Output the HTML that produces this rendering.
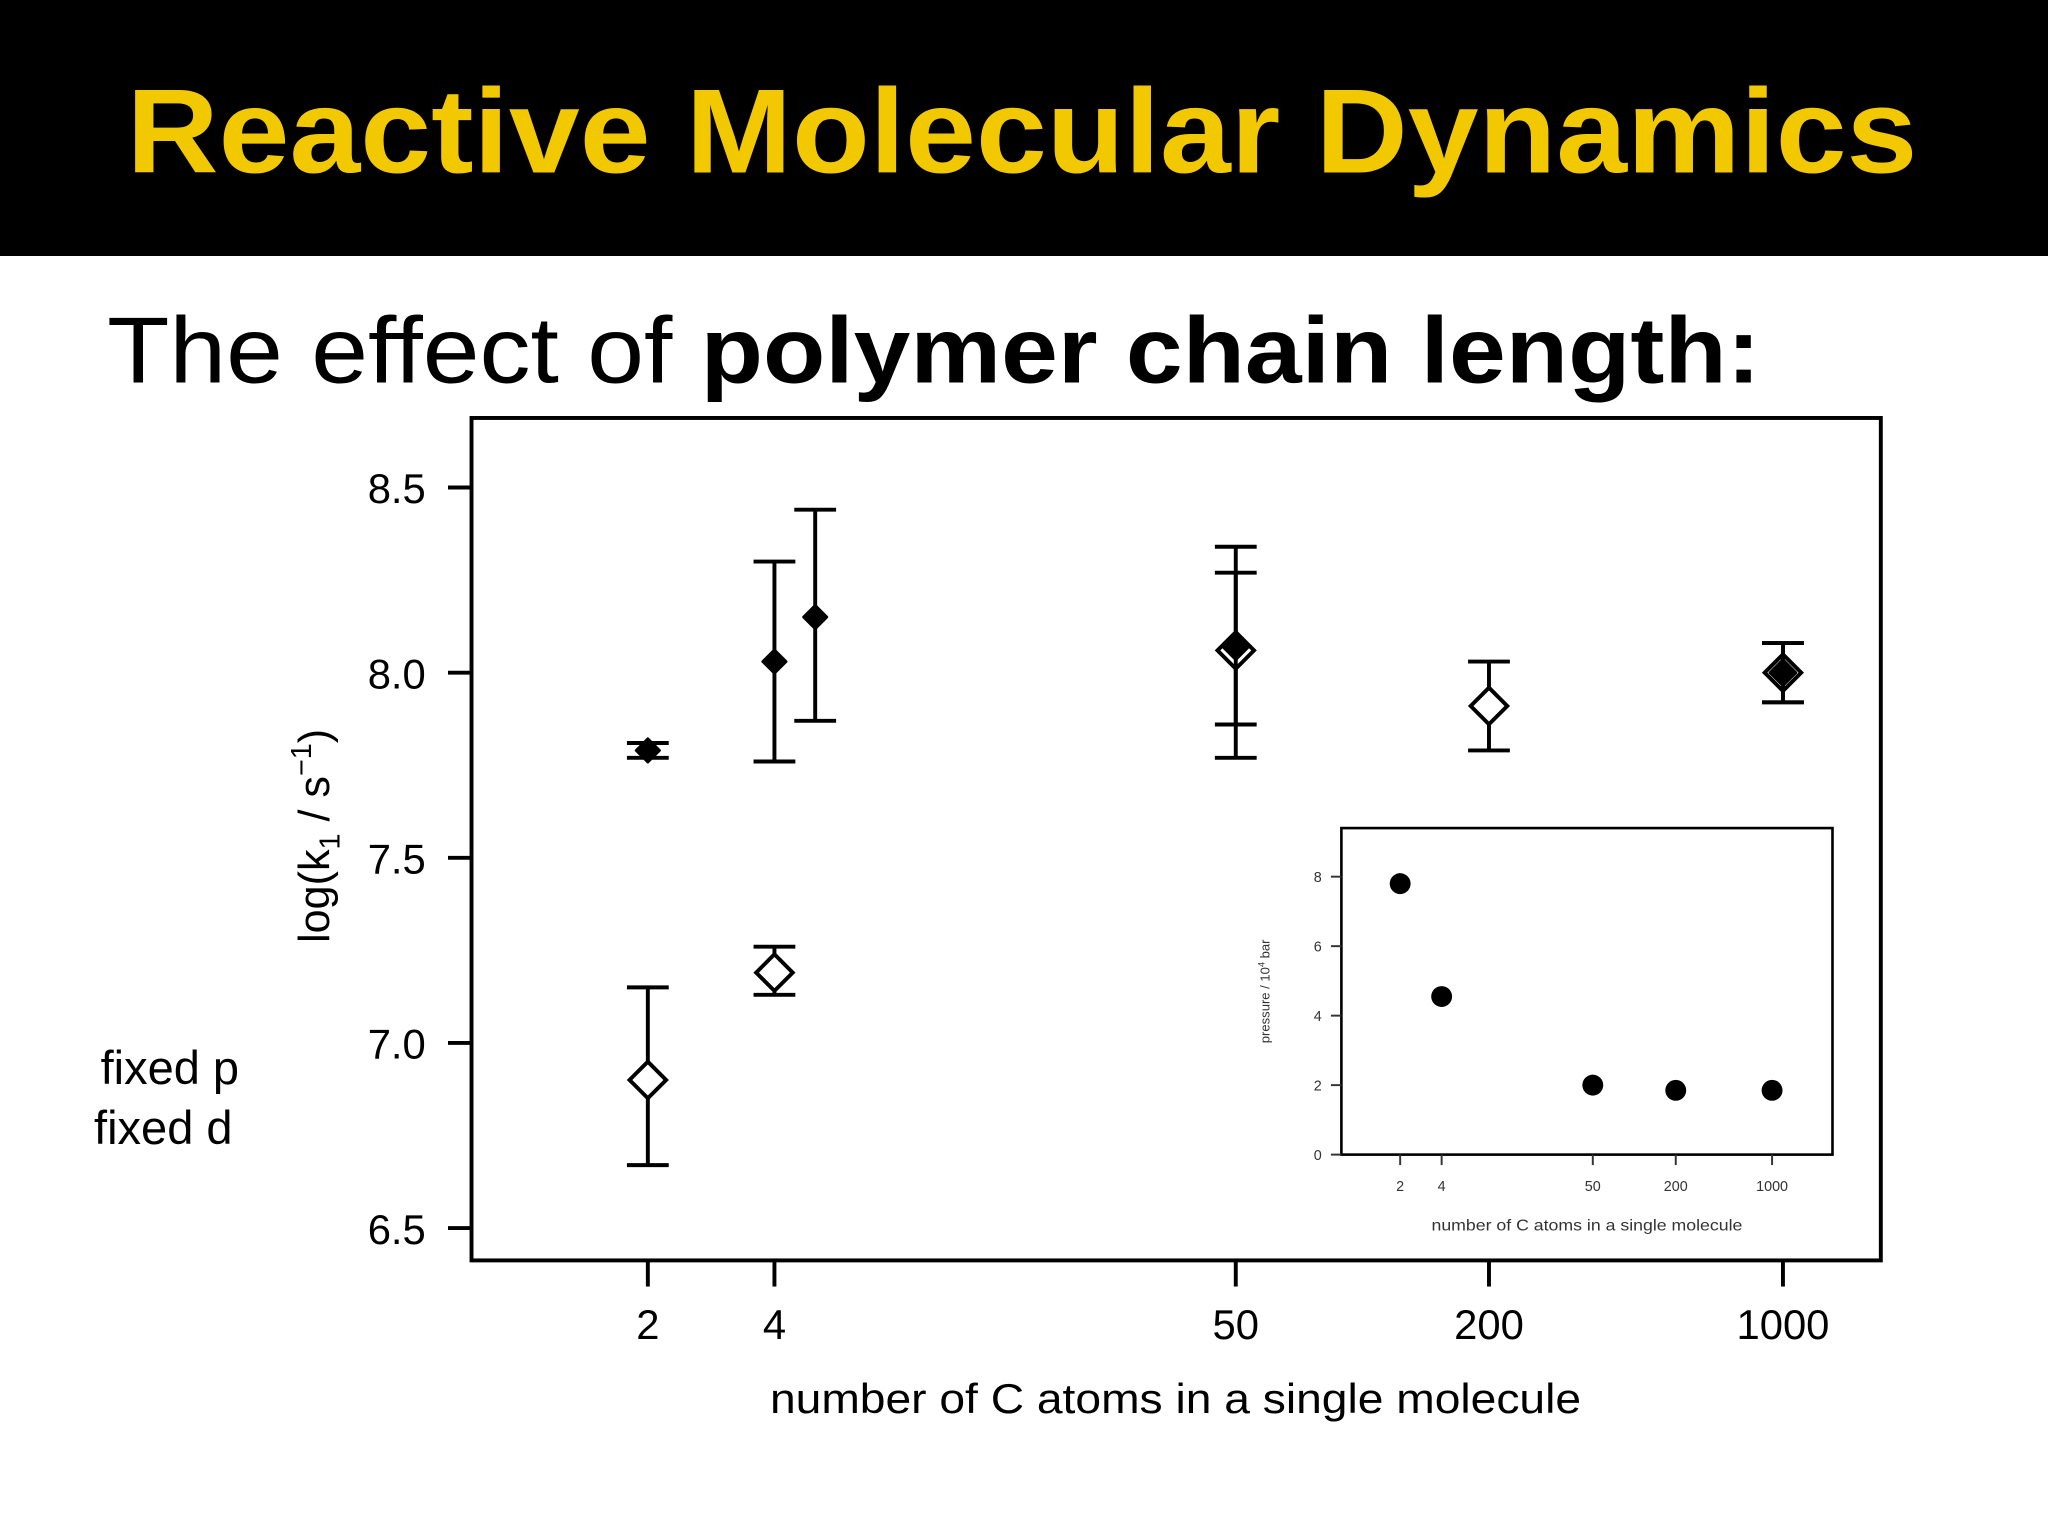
<!DOCTYPE html>
<html><head><meta charset="utf-8"><style>
html,body{margin:0;padding:0;background:#fff;}
svg{display:block;font-family:"Liberation Sans",sans-serif;}
</style></head><body>
<svg id="s" width="2048" height="1536" viewBox="0 0 1568 1176" xmlns="http://www.w3.org/2000/svg">
<rect x="0" y="0" width="1568" height="196" fill="#000"/>
<text x="97" y="132" font-size="92" font-weight="bold" fill="#f2c900" textLength="1371" lengthAdjust="spacingAndGlyphs">Reactive Molecular Dynamics</text>
<text x="82" y="293" font-size="72" fill="#000" textLength="1266" lengthAdjust="spacingAndGlyphs">The effect of <tspan font-weight="bold">polymer chain length:</tspan></text>
<text x="77" y="830" font-size="36">fixed p</text>
<text x="72" y="876" font-size="36">fixed d</text>
<rect x="361" y="320" width="1079" height="645" fill="none" stroke="#000" stroke-width="3"/>
<text transform="translate(252,640) rotate(-90)" text-anchor="middle" font-size="33">log(k<tspan font-size="22" dy="8">1</tspan><tspan dy="-8"> / s</tspan><tspan font-size="22" dy="-14">−1</tspan><tspan dy="14">)</tspan></text>
<text x="900" y="1082" text-anchor="middle" font-size="32" textLength="621" lengthAdjust="spacingAndGlyphs">number of C atoms in a single molecule</text>
<g id="main"></g>
<rect x="1027" y="634" width="376" height="250" fill="#fff" stroke="#000" stroke-width="2"/>
<text transform="translate(972,759) rotate(-90)" text-anchor="middle" font-size="10" fill="#333">pressure / 10<tspan font-size="7" dy="-4">4</tspan><tspan dy="4"> bar</tspan></text>
<text x="1215" y="942" text-anchor="middle" font-size="12" fill="#333" textLength="238" lengthAdjust="spacingAndGlyphs">number of C atoms in a single molecule</text>
<g id="inset"></g>
</svg>
<script>
const ns="http://www.w3.org/2000/svg";
const catLabels=["2","4","50","200","1000"];
const tickCats=[2,4,50,200,1000];
const yTicks=[6.5,7.0,7.5,8.0,8.5];
const filledN=[2,4,5,50,1000];
const filledV=[7.79,8.03,8.15,8.07,8.00];
const filledLo=[7.77,7.76,7.87,7.86,7.92];
const filledHi=[7.81,8.30,8.44,8.27,8.08];
const openN=[2,4,50,200,1000];
const openV=[6.90,7.19,8.06,7.91,8.00];
const openLo=[6.67,7.13,7.77,7.79,7.92];
const openHi=[7.15,7.26,8.34,8.03,8.08];
const insetN=[2,4,50,200,1000];
const insetP=[7.8,4.55,2.0,1.85,1.85];
const insetYTicks=[0,2,4,6,8];

const X=n=>496+(Math.log10(n)-Math.log10(2))*322;
const Y=v=>515-(v-8)*283.5;
const IX=n=>1072+(Math.log10(n)-Math.log10(2))*105.5;
const IY=v=>884-v*26.6;

function mk(parent,tag,attrs){const e=document.createElementNS(ns,tag);for(const k in attrs)e.setAttribute(k,attrs[k]);parent.appendChild(e);return e;}
const g=document.getElementById('main'), gi=document.getElementById('inset');

yTicks.forEach(v=>{
  const l=mk(g,'line',{x1:343,x2:361,y1:Y(v),y2:Y(v),stroke:'#000','stroke-width':3});
  
  
  const t=mk(g,'text',{x:326,y:Y(v)+12,'text-anchor':'end','font-size':32});
  t.textContent=v.toFixed(1);
  
  
});
tickCats.forEach((n,i)=>{
  const l=mk(g,'line',{x1:X(n),x2:X(n),y1:965,y2:985,stroke:'#000','stroke-width':3});
  
  
  const t=mk(g,'text',{x:X(n),y:1025,'text-anchor':'middle','font-size':32});
  t.textContent=catLabels[i];
  
  
});
function errbar(n,lo,hi,name){
  const x=X(n);
  const p=mk(g,'path',{d:`M${x},${Y(lo)}V${Y(hi)}M${x-16},${Y(lo)}H${x+16}M${x-16},${Y(hi)}H${x+16}`,stroke:'#000','stroke-width':3,fill:'none'});
  
  
}
openN.forEach((n,i)=>{
  errbar(n,openLo[i],openHi[i],'error-bar-fixed-d');
  const x=X(n),y=Y(openV[i]),r=14;
  const d=mk(g,'path',{d:`M${x},${y-r}L${x+r},${y}L${x},${y+r}L${x-r},${y}Z`,fill:'#fff',stroke:'#000','stroke-width':3});
  
  
});
filledN.forEach((n,i)=>{
  errbar(n,filledLo[i],filledHi[i],'error-bar-fixed-p');
  const x=X(n),y=Y(filledV[i]),r=(n>=50)?10:9;
  const d=mk(g,'path',{d:`M${x},${y-r}L${x+r},${y}L${x},${y+r}L${x-r},${y}Z`,fill:'#000',stroke:'#000','stroke-width':2,'stroke-linejoin':'round'});
  
  
});
insetYTicks.forEach(v=>{
  const l=mk(gi,'line',{x1:1019,x2:1027,y1:IY(v),y2:IY(v),stroke:'#333','stroke-width':1.5});
  
  
  const t=mk(gi,'text',{x:1012,y:IY(v)+4,'text-anchor':'end','font-size':11,fill:'#333'});
  t.textContent=v;
  
  
});
tickCats.forEach((n,i)=>{
  const l=mk(gi,'line',{x1:IX(n),x2:IX(n),y1:884,y2:892,stroke:'#333','stroke-width':1.5});
  
  
  const t=mk(gi,'text',{x:IX(n),y:912,'text-anchor':'middle','font-size':11,fill:'#333'});
  t.textContent=catLabels[i];
  
  
});
insetN.forEach((n,i)=>{
  const c=mk(gi,'circle',{cx:IX(n),cy:IY(insetP[i]),r:8,fill:'#000'});
  
  
});
</script>
</body></html>
